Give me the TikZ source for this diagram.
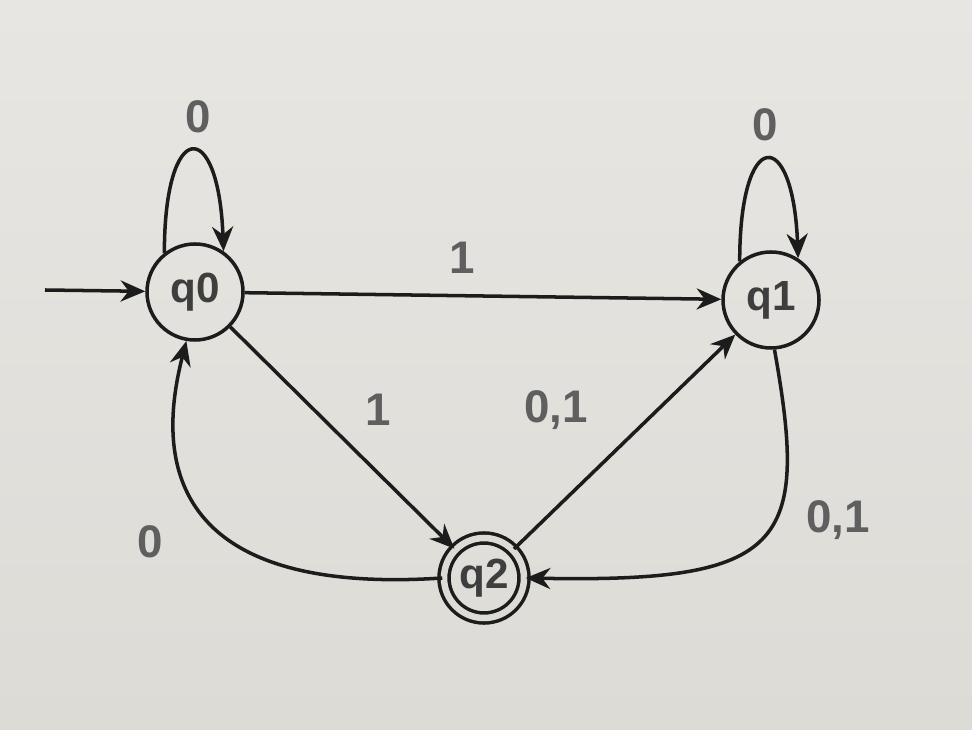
\documentclass[tikz,border=0pt]{standalone}
\usepackage{fontspec}
\setmainfont{Liberation Sans}
\usetikzlibrary{arrows.meta}
\definecolor{paper}{RGB}{220,219,214}
\definecolor{paperlight}{RGB}{231,230,226}
\definecolor{ink}{RGB}{28,28,28}
\definecolor{pencil}{RGB}{95,95,95}

\begin{document}
\begin{tikzpicture}[
    state/.style={circle, draw=ink, line width=2pt, minimum size=1.92cm, inner sep=0pt,
        font=\fontsize{24}{26}\selectfont\bfseries, text=ink!85},
    accepting/.style={double=paper, double distance=3.7pt, minimum size=1.6cm},
    edge/.style={draw=ink, line width=2pt, -{Stealth[length=14pt,width=12pt]}},
    lbl/.style={font=\fontsize{26}{28}\selectfont\bfseries, text=pencil}]

    \shade[top color=paperlight, bottom color=paper] (0,0) rectangle (19.44,14.58);

    % states
    \node[state] (q0) at (3.9,8.74) {q0};
    \node[state] (q1) at (15.42,8.58) {q1};
    \node[state,accepting] (q2) at (9.68,3.02) {q2};
    \coordinate (start) at (0.9,8.78);

    % transitions
    \draw[edge] (start) -- (q0);
    \draw[edge] (q0.128) .. controls +(0,2.7) and +(-0.1,2.7) .. (q0.55);
    \draw[edge] (q1.129) .. controls +(0,2.7) and +(-0.1,2.65) .. (q1.57);
    \draw[edge] (q0) -- (q1);
    \draw[edge] (q0) -- (q2);
    \draw[edge] (q2) -- (q1);
    \draw[edge] (q2.180) .. controls +(-6,-0.4) and +(-0.46,-1.8) .. (q0.-100);
    \draw[edge] (q1.-86) .. controls +(0.7,-3.9) and +(5.2,-0.1) .. (q2.0);

    % labels
    \node[lbl] (l00) at (3.96,12.24) {0};
    \node[lbl] (l11) at (15.3,12.08) {0};
    \node[lbl] (l01) at (9.24,9.42) {1};
    \node[lbl] (l02) at (7.56,6.38) {1};
    \node[lbl] (l21) at (11.12,6.38) {0,1};
    \node[lbl] (l20) at (3.0,3.74) {0};
    \node[lbl] (l12) at (16.76,4.18) {0,1};
\end{tikzpicture}
\end{document}
